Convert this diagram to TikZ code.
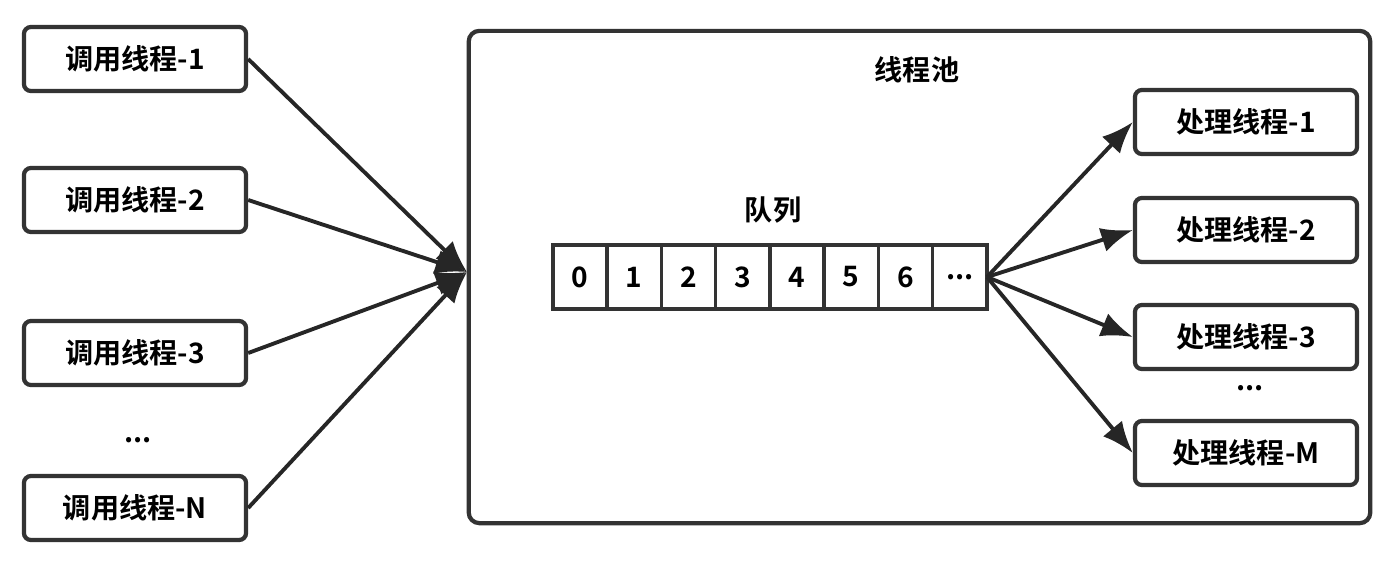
\documentclass[tikz,border=0pt]{standalone}
\usepackage{fontspec}
\setmainfont{Noto Sans CJK SC}[BoldFont={Noto Sans CJK SC Bold}]
\usetikzlibrary{arrows.meta}
\begin{document}
\begin{tikzpicture}[x=0.01cm,y=-0.01cm,
    thread/.style={draw=black!80,line width=1.2pt,rounded corners=2pt,minimum width=2.22cm,minimum height=0.64cm,font=\fontsize{8}{9}\selectfont\bfseries},
    cell/.style={draw=black!80,line width=1pt,minimum width=0.5425cm,minimum height=0.64cm,inner sep=0pt,font=\fontsize{8}{9}\selectfont\bfseries},
    lbl/.style={font=\fontsize{8}{9}\selectfont\bfseries},
    link/.style={draw=black!85,line width=1.1pt,-{Latex[length=9pt,width=7pt]}}]
    \useasboundingbox (0,0) rectangle (1388,572);
    % pool
    \node[draw=black!80,line width=1.2pt,rounded corners=3pt,minimum width=9.01cm,minimum height=4.92cm] (pool) at (919.5,277) {};
    \node[lbl] (title) at (917,70) {线程池};
    \node[lbl] (qlabel) at (773,210) {队列};
    % queue
    \foreach \i in {0,...,6} {
        \node[cell] (q\i) at ({580+54.25*\i},277) {\i};
    }
    \node[cell] (q7) at ({580+54.25*7},277) {...};
    \coordinate (in) at (467,272);
    \coordinate (out) at (987,277);
    % callers
    \node[thread] (c1) at (135,59) {调用线程-1};
    \node[thread] (c2) at (135,200) {调用线程-2};
    \node[thread] (c3) at (135,353) {调用线程-3};
    \node[lbl] (cdots) at (138,440) {...};
    \node[thread] (cN) at (135,508) {调用线程-N};
    \foreach \c in {c1,c2,c3,cN} {
        \draw[link] (\c.east) -- (in);
    }
    % workers
    \node[thread] (w1) at (1246,122) {处理线程-1};
    \node[thread] (w2) at (1246,230) {处理线程-2};
    \node[thread] (w3) at (1246,337) {处理线程-3};
    \node[lbl] (wdots) at (1250,388) {...};
    \node[thread] (wM) at (1246,453) {处理线程-M};
    \foreach \w in {w1,w2,w3,wM} {
        \draw[link] (out) -- (\w.west);
    }
\end{tikzpicture}
\end{document}
